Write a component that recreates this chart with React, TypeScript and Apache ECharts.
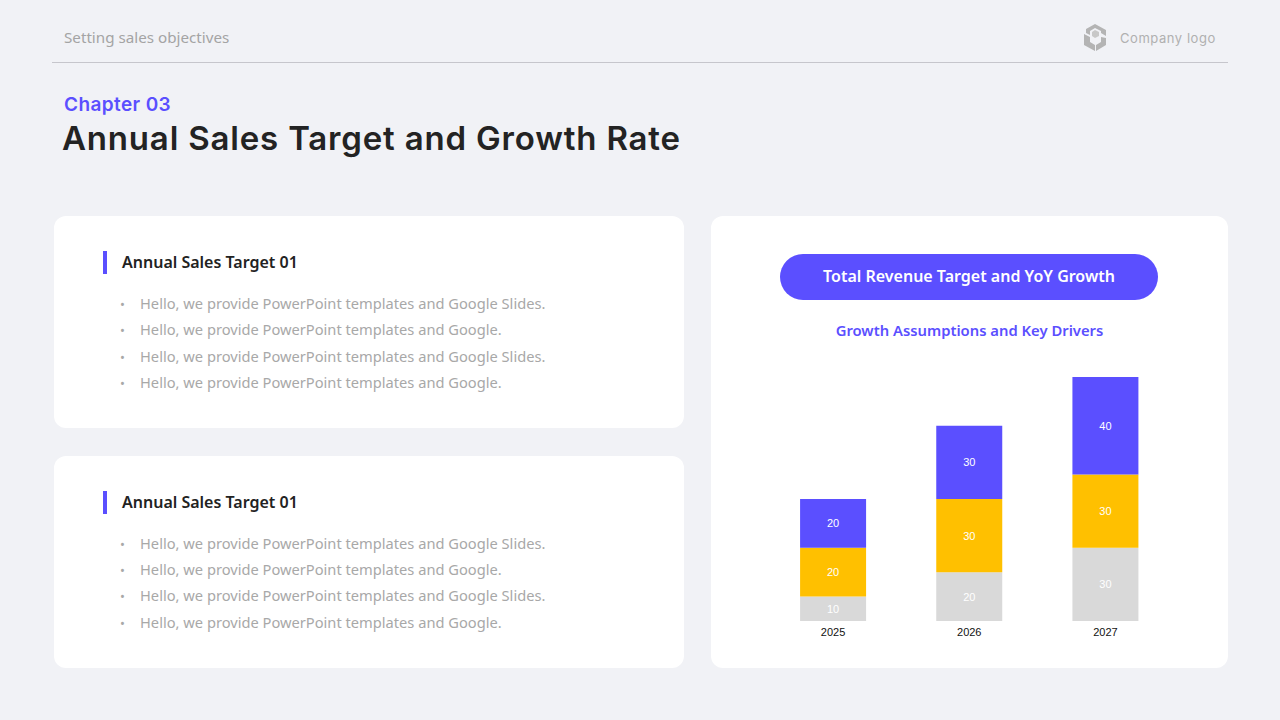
import React, { useEffect, useRef } from "react";
import * as echarts from "echarts";

const years = ["2025", "2026", "2027"];
const baseValues = [10, 20, 30];
const midValues = [20, 30, 30];
const topValues = [20, 30, 40];
const bulletLines = [
  "Hello, we provide PowerPoint templates and Google Slides.",
  "Hello, we provide PowerPoint templates and Google.",
  "Hello, we provide PowerPoint templates and Google Slides.",
  "Hello, we provide PowerPoint templates and Google.",
];

const PURPLE = "#5b4fff";
const YELLOW = "#ffc000";
const GREY = "#d9d9d9";

function Card({ top }: { top: number }) {
  return (
    <div
      style={{
        position: "absolute",
        left: 54,
        top,
        width: 630,
        height: 212,
        background: "#fff",
        borderRadius: 12,
      }}
    >
      <div style={{ position: "absolute", left: 49, top: 35, width: 4, height: 23, background: PURPLE }} />
      <div
        style={{
          position: "absolute",
          left: 68,
          top: 34,
          fontFamily: "'Noto Sans', sans-serif",
          fontWeight: 600,
          fontSize: 16,
          lineHeight: "24px",
          color: "#222",
        }}
      >
        Annual Sales Target 01
      </div>
      {bulletLines.map((t, i) => (
        <div
          key={i}
          style={{
            position: "absolute",
            left: 66,
            top: 75 + i * 26.4,
            fontFamily: "'Noto Sans', sans-serif",
            fontSize: 14.67,
            lineHeight: "24px",
            color: "#a8a8a8",
            whiteSpace: "nowrap",
          }}
        >
          <span style={{ display: "inline-block", width: 20, fontSize: 13 }}>•</span>
          {t}
        </div>
      ))}
    </div>
  );
}

function Logo() {
  return (
    <svg width="28" height="30" viewBox="0 0 28 30" style={{ position: "absolute", left: 1081, top: 23 }}>
      <g fill="#b4b4b4">
        <polygon points="14,1 25,7 25,13 20,10 20,8 14,5 9,8 9,12 5,10 5,6" />
        <polygon points="3,11 9,14 9,19 14,22 14,28 3,22" />
        <polygon points="25,15 25,22 15,28 15,22 20,19 20,14" />
        <polygon points="11,9 14,7 18,9 18,13 14,15 11,13" fill="#c8c8c8" />
      </g>
    </svg>
  );
}

export default function App() {
  const ref = useRef<HTMLDivElement>(null);
  useEffect(() => {
    if (!ref.current) return;
    const chart = echarts.init(ref.current, undefined, { renderer: "svg" });
    const label = {
      show: true,
      position: "inside" as const,
      color: "#ffffff",
      fontSize: 11,
      fontFamily: "'Liberation Sans', Arial, sans-serif",
    };
    chart.setOption({
      animation: false,
      grid: { left: 54, top: 161, width: 408.5, height: 244 },
      xAxis: {
        type: "category",
        data: years,
        axisLine: { show: false },
        axisTick: { show: false },
        axisLabel: {
          color: "#111",
          fontSize: 11,
          margin: 5,
          fontFamily: "'Liberation Sans', Arial, sans-serif",
        },
      },
      yAxis: { type: "value", min: 0, max: 100, show: false, splitLine: { show: false } },
      series: [
        { type: "bar", stack: "a", data: baseValues, barWidth: 66, itemStyle: { color: GREY }, label },
        { type: "bar", stack: "a", data: midValues, barWidth: 66, itemStyle: { color: YELLOW }, label },
        { type: "bar", stack: "a", data: topValues, barWidth: 66, itemStyle: { color: PURPLE }, label },
      ],
    });
    return () => chart.dispose();
  }, []);

  return (
    <div
      style={{
        position: "fixed",
        left: 0,
        top: 0,
        width: 1280,
        height: 720,
        background: "#f1f2f6",
        overflow: "hidden",
      }}
    >
      <div
        style={{
          position: "absolute",
          left: 64,
          top: 26,
          fontFamily: "'Noto Sans', sans-serif",
          fontSize: 15.2,
          lineHeight: "22px",
          color: "#a4a4a4",
        }}
      >
        Setting sales objectives
      </div>
      <Logo />
      <div
        style={{
          position: "absolute",
          left: 1120,
          top: 28,
          fontFamily: "Inter, 'Noto Sans', sans-serif",
          fontSize: 13,
          letterSpacing: 0.55,
          lineHeight: "20px",
          color: "#b0b0b0",
        }}
      >
        Company logo
      </div>
      <div style={{ position: "absolute", left: 52, top: 62, width: 1176, height: 1, background: "#c6c6cc" }} />
      <div
        style={{
          position: "absolute",
          left: 64,
          top: 93,
          fontFamily: "Inter, 'Noto Sans', sans-serif",
          fontWeight: 600,
          fontSize: 19,
          letterSpacing: 0.4,
          lineHeight: "24px",
          color: PURPLE,
        }}
      >
        Chapter 03
      </div>
      <div
        style={{
          position: "absolute",
          left: 62,
          top: 118,
          fontFamily: "Inter, 'Noto Sans', sans-serif",
          fontWeight: 600,
          fontSize: 33,
          letterSpacing: 0.82,
          lineHeight: "40px",
          color: "#232323",
          whiteSpace: "nowrap",
        }}
      >
        Annual Sales Target and Growth Rate
      </div>
      <Card top={216} />
      <Card top={455.5} />
      <div
        style={{
          position: "absolute",
          left: 711,
          top: 216,
          width: 517,
          height: 452,
          background: "#fff",
          borderRadius: 12,
        }}
      />
      <div
        style={{
          position: "absolute",
          left: 780,
          top: 254,
          width: 378,
          height: 46,
          borderRadius: 23,
          background: PURPLE,
          color: "#fff",
          fontFamily: "'Noto Sans', sans-serif",
          fontWeight: 600,
          fontSize: 16,
          lineHeight: "44px",
          textAlign: "center",
        }}
      >
        Total Revenue Target and YoY Growth
      </div>
      <div
        style={{
          position: "absolute",
          left: 711,
          top: 319,
          width: 517,
          textAlign: "center",
          fontFamily: "'Noto Sans', sans-serif",
          fontWeight: 600,
          fontSize: 14.8,
          lineHeight: "22px",
          color: PURPLE,
        }}
      >
        Growth Assumptions and Key Drivers
      </div>
      <div ref={ref} style={{ position: "absolute", left: 711, top: 216, width: 517, height: 452 }} />
    </div>
  );
}
